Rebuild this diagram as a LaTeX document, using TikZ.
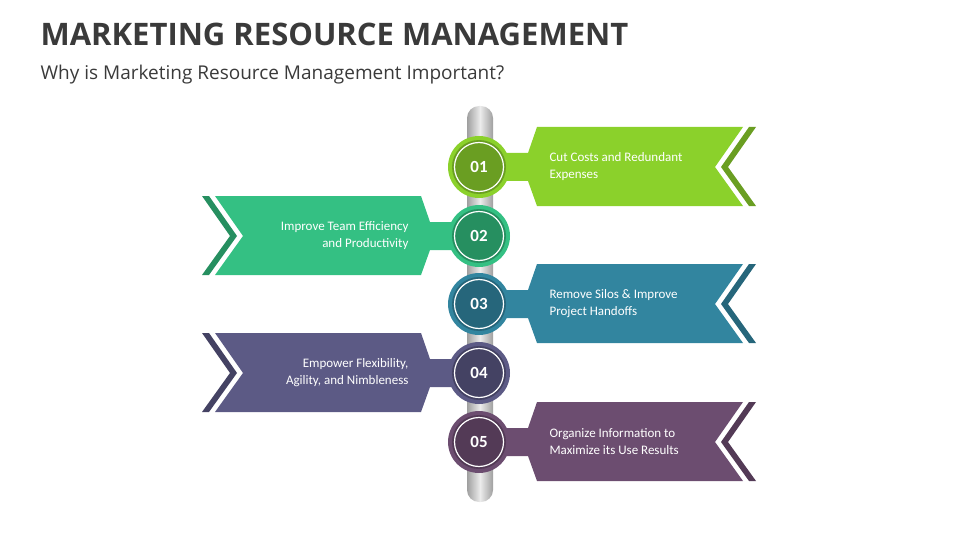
\documentclass[tikz,border=0pt]{standalone}
\usepackage{fontspec}
\setmainfont{Carlito}
\newfontfamily\titlefont{Open Sans}
\usetikzlibrary{positioning}
\definecolor{grA}{HTML}{8BD12B}\definecolor{grAd}{HTML}{6A9E22}
\definecolor{grB}{HTML}{34C083}\definecolor{grBd}{HTML}{268F60}
\definecolor{blC}{HTML}{32859F}\definecolor{blCd}{HTML}{26667B}
\definecolor{puD}{HTML}{5C5A85}\definecolor{puDd}{HTML}{444263}
\definecolor{plE}{HTML}{6C4D70}\definecolor{plEd}{HTML}{533A56}
\definecolor{titlegray}{HTML}{3A3A3A}

\tikzset{
  itemtext/.style={text=white, font=\fontsize{13}{17}\selectfont, align=left, anchor=west},
  numtext/.style={text=white, font=\fontsize{17}{20}\selectfont\bfseries}
}

% right banner: y, colour, dark colour
\newcommand{\rbanner}[3]{%
  \fill[#2] (479,#1-14) -- (528,#1-14) -- (537,#1-40) -- (743,#1-40) -- (715,#1)
    -- (743,#1+39) -- (537,#1+39) -- (528,#1+14) -- (479,#1+14) -- cycle;
  \fill[#3] (749,#1-40) -- (756,#1-40) -- (728,#1) -- (756,#1+39) -- (749,#1+39) -- (721,#1) -- cycle;}
% left banner
\newcommand{\lbanner}[3]{%
  \fill[#2] (479,#1-14) -- (430,#1-14) -- (421,#1-40) -- (215,#1-40) -- (243,#1)
    -- (215,#1+39) -- (421,#1+39) -- (430,#1+14) -- (479,#1+14) -- cycle;
  \fill[#3] (209,#1-40) -- (202,#1-40) -- (230,#1) -- (202,#1+39) -- (209,#1+39) -- (237,#1) -- cycle;}
% numbered disc
\newcommand{\numdisc}[4]{%
  \fill[#2] (479,#1) circle (31);
  \fill[#3] (479,#1) circle (27);
  \draw[white, line width=1.2pt] (479,#1) circle (24.5);
  \node[numtext] (#4) at (479,#1) {#4};}

\begin{document}
\begin{tikzpicture}[x=1pt, y=-1pt]
\useasboundingbox (0,0) rectangle (960,540);

\node[anchor=west, text=titlegray, font=\titlefont\fontsize{31}{36}\selectfont\bfseries] (title) at (37,34) {MARKETING RESOURCE MANAGEMENT};
\node[anchor=west, text=titlegray, font=\titlefont\fontsize{19}{22}\selectfont] (subtitle) at (37,75) {Why is Marketing Resource Management Important?};

% pole
\shade[left color=gray!75, right color=gray!75, middle color=gray!15, rounded corners=12pt] (467,106) rectangle (493,502);

\rbanner{167}{grA}{grAd}
\lbanner{236}{grB}{grBd}
\rbanner{304}{blC}{blCd}
\lbanner{373}{puD}{puDd}
\rbanner{442}{plE}{plEd}

\numdisc{167}{grA}{grAd}{01}
\numdisc{236}{grB}{grBd}{02}
\numdisc{304}{blC}{blCd}{03}
\numdisc{373}{puD}{puDd}{04}
\numdisc{442}{plE}{plEd}{05}

\node[itemtext] (cut) at (546,167) {Cut Costs and Redundant\\Expenses};
\node[itemtext, align=right, anchor=east] (team) at (412,236) {Improve Team Efficiency\\and Productivity};
\node[itemtext] (silos) at (546,304) {Remove Silos \& Improve\\Project Handoffs};
\node[itemtext, align=right, anchor=east] (flex) at (412,373) {Empower Flexibility,\\Agility, and Nimbleness};
\node[itemtext] (info) at (546,442) {Organize Information to\\Maximize its Use Results};
\end{tikzpicture}
\end{document}
